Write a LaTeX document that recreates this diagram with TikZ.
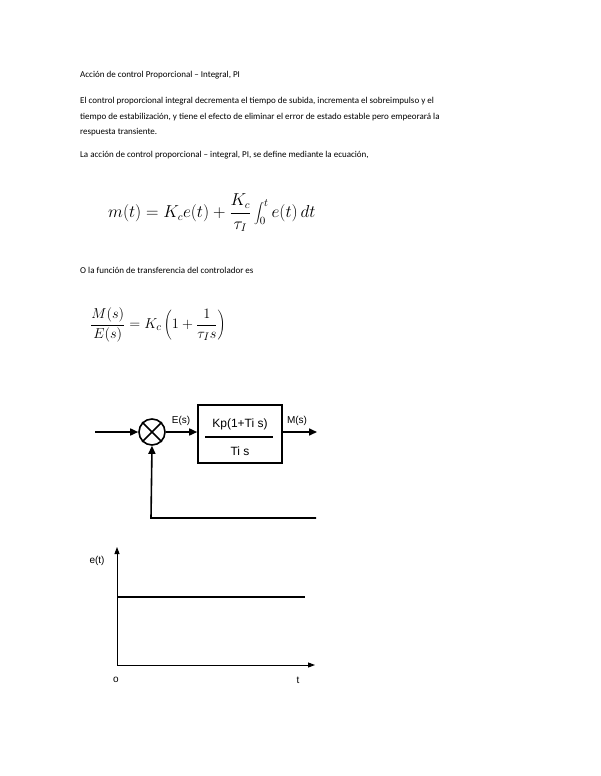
\documentclass[tikz,border=0pt]{standalone}
\usepackage{fontspec}
\setmainfont{Carlito}
\newfontfamily\arialf{Liberation Sans}
\usetikzlibrary{arrows.meta}
\newcommand{\eqone}{\fontsize{16}{18}\selectfont$\displaystyle m(t)=K_c e(t)+\frac{K_c}{\tau_I}\int_0^t e(t)\,dt$}
\newcommand{\eqtwo}{\fontsize{15}{18}\selectfont$\displaystyle \frac{M(s)}{E(s)}=K_c\left(1+\frac{1}{\tau_I s}\right)$}
\begin{document}
\begin{tikzpicture}[x=1pt,y=-1pt,
  txt/.style={anchor=west,inner sep=0pt,font=\fontsize{9}{15}\selectfont},
  lbl/.style={inner sep=0pt,font=\arialf\fontsize{10}{12}\selectfont},
  eqn/.style={anchor=west,inner sep=0pt},
  wire/.style={line width=1.6pt},
  arr/.style={wire,-{Triangle[length=8pt,width=7pt]}}]
\useasboundingbox (0,0) rectangle (600,776);
\node[txt] (t1) at (80,75) {Acción de control Proporcional – Integral, PI};
\node[txt] (t2) at (80,101) {El control proporcional integral decrementa el tiempo de subida, incrementa el sobreimpulso y el};
\node[txt] (t3) at (80,117) {tiempo de estabilización, y tiene el efecto de eliminar el error de estado estable pero empeorará la};
\node[txt] (t4) at (80,132) {respuesta transiente.};
\node[txt] (t5) at (80,155) {La acción de control proporcional – integral, PI, se define mediante la ecuación,};
\node[eqn] (eqa) at (108,213) {\eqone};
\node[txt] (t6) at (80,270) {O la función de transferencia del controlador es};
\node[eqn] (eqb) at (90,325) {\eqtwo};
% block diagram
\coordinate (in) at (95,432);
\node[draw,circle,line width=1.6pt,minimum size=26pt,inner sep=0pt] (sum) at (152,432) {};
\draw[line width=1.6pt] (sum.north west) -- (sum.south east) (sum.north east) -- (sum.south west);
\node[draw,line width=1.6pt,minimum width=84pt,minimum height=58pt,inner sep=0pt] (blk) at (240,434) {};
\draw[line width=1.6pt] (205,437) -- (273,437);
\node[lbl,font=\arialf\fontsize{12}{14}\selectfont] (num) at (240,424) {Kp(1+Ti s)};
\node[lbl,font=\arialf\fontsize{12}{14}\selectfont] (den) at (240,451) {Ti s};
\coordinate (out) at (317,432);
\coordinate (fb1) at (316,518);
\coordinate (fb2) at (151,518);
\draw[arr] (in) -- (sum.west);
\draw[arr] (sum.east) -- (blk.west |- sum.east);
\draw[arr] (blk.east |- out) -- (out);
\draw[arr] (fb1) -- (fb2) -- (sum.south);
\node[lbl] (es) at (181,421) {E(s)};
\node[lbl] (ms) at (297,421) {M(s)};
% graph
\coordinate (o) at (117,665);
\coordinate (ytop) at (117,547);
\coordinate (xend) at (315,665);
\draw[line width=0.9pt,-{Triangle[length=7pt,width=5pt]}] (o) -- (ytop);
\draw[line width=0.9pt,-{Triangle[length=7pt,width=5pt]}] (o) -- (xend);
\coordinate (s1) at (117,597);
\coordinate (s2) at (305,597);
\draw[line width=1.2pt] (s1) -- (s2);
\node[lbl] (et) at (97,561) {e(t)};
\node[lbl] (lo) at (116,680) {o};
\node[lbl] (lt) at (298,680) {t};
\end{tikzpicture}
\end{document}
